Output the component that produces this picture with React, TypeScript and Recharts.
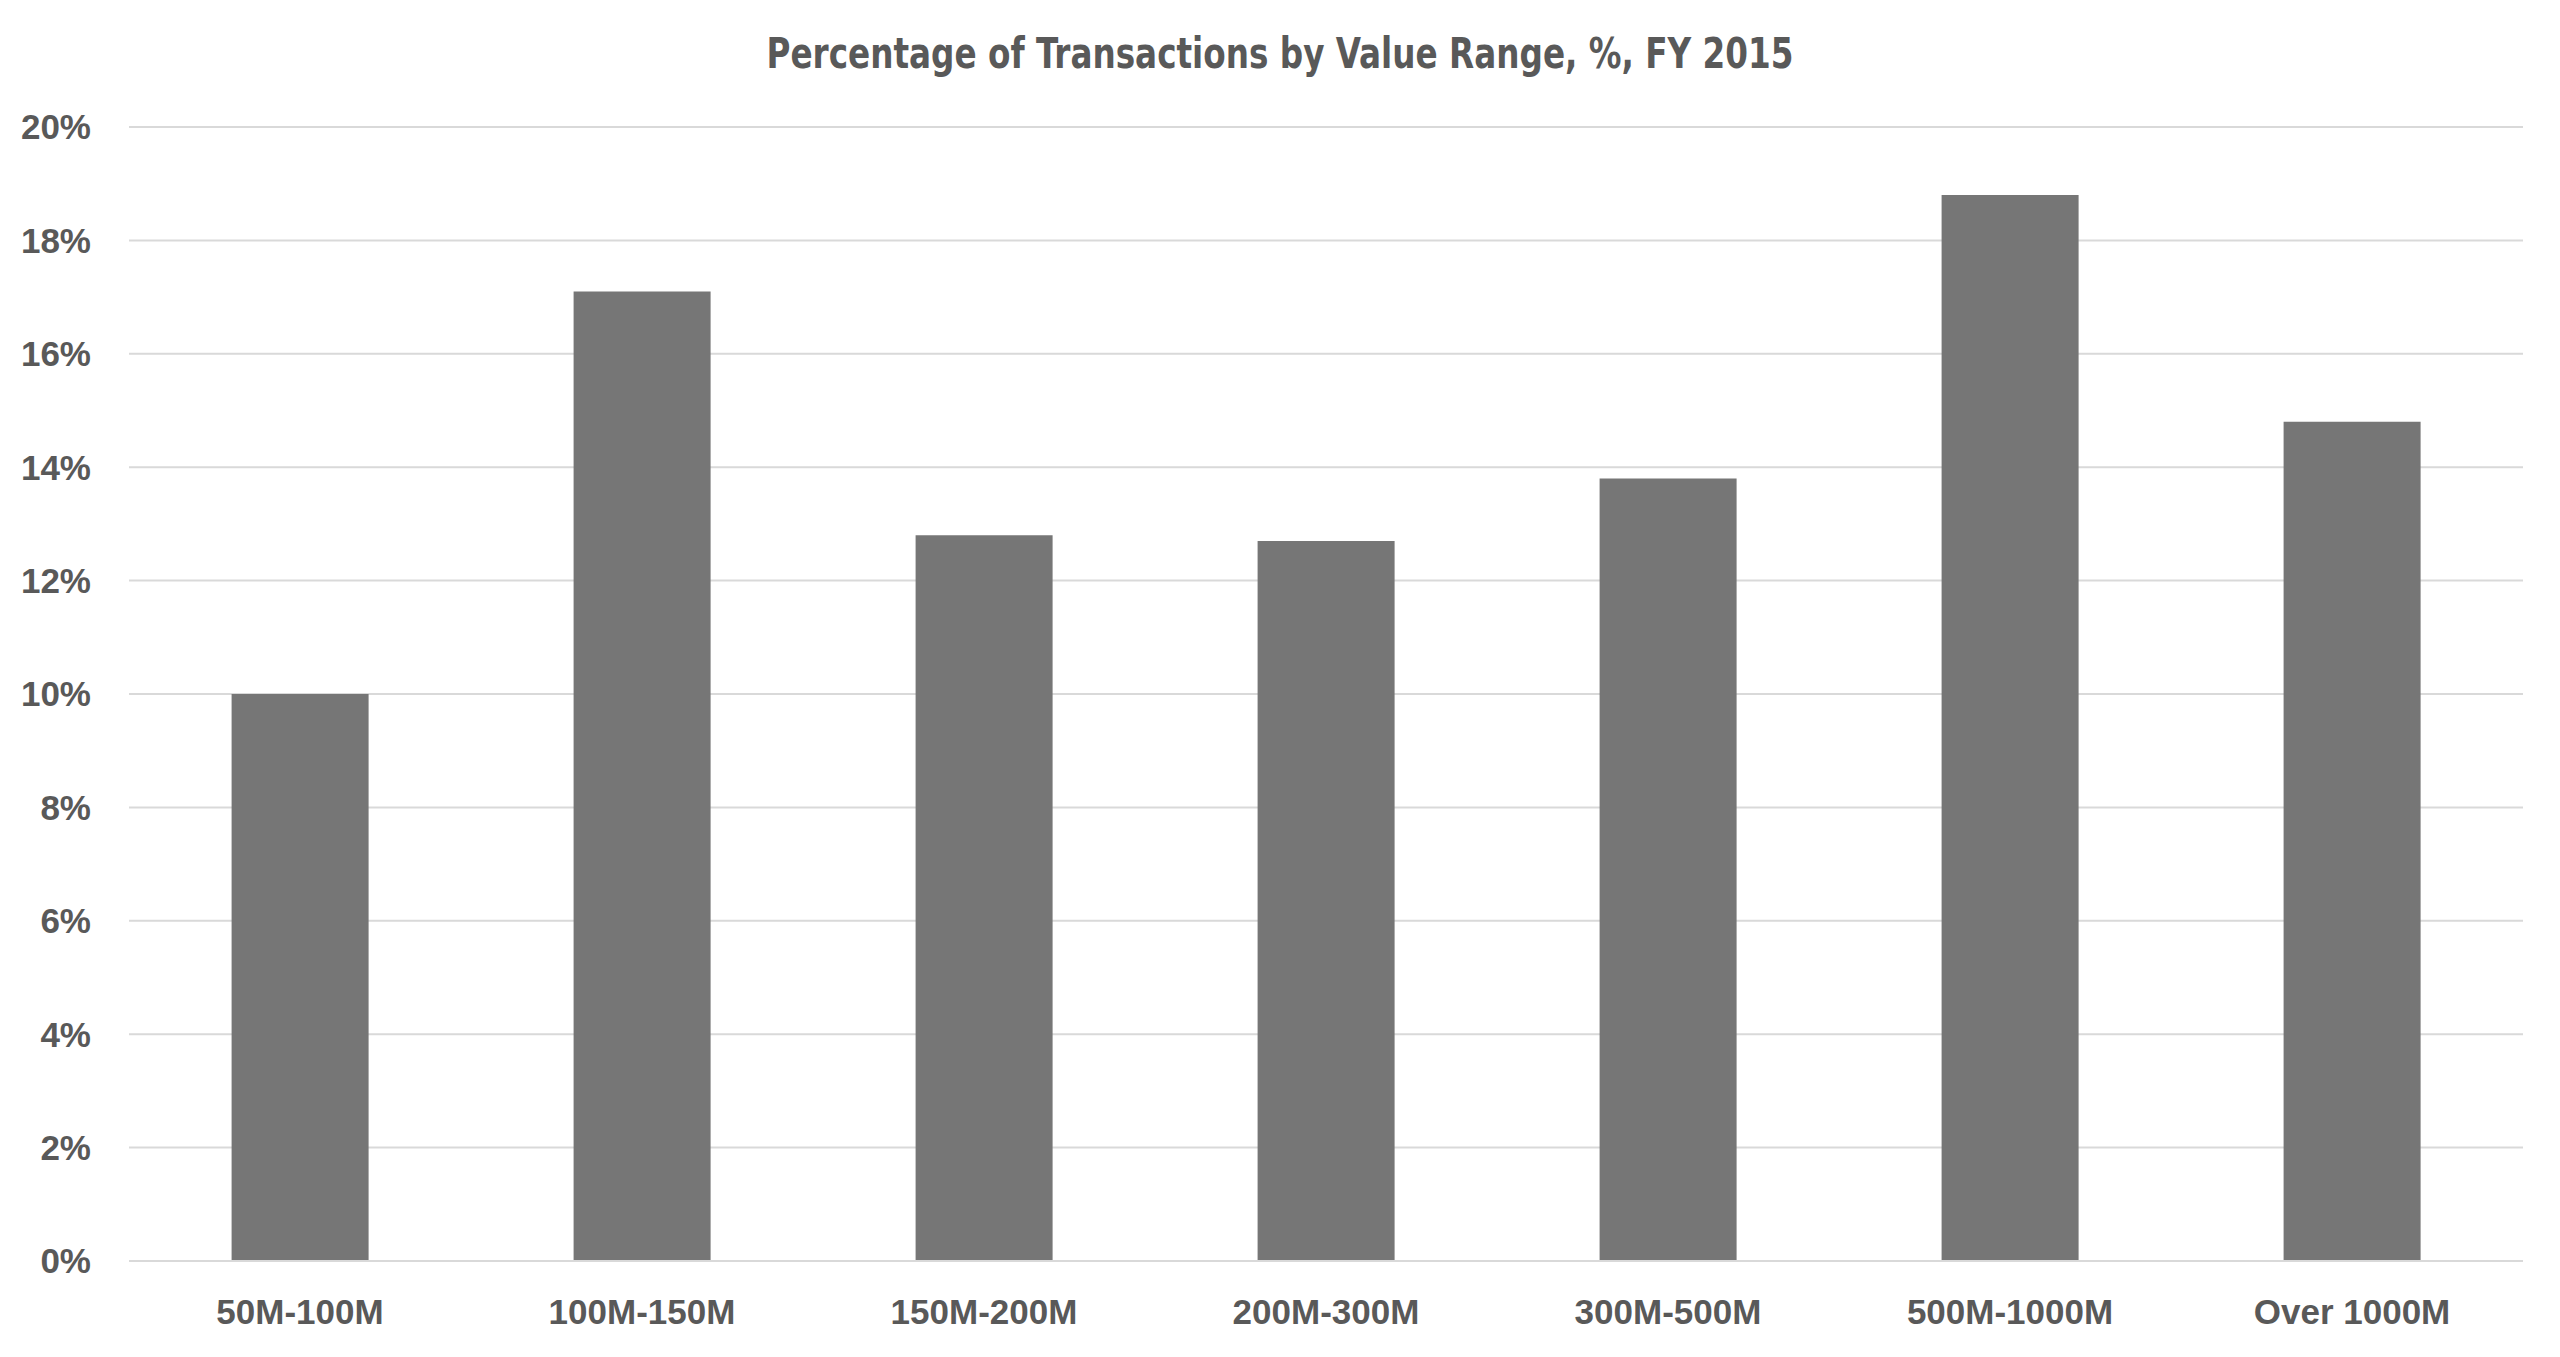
import React from 'react';
import { BarChart, Bar, XAxis, YAxis, CartesianGrid } from 'recharts';

const categories = ['50M-100M', '100M-150M', '150M-200M', '200M-300M', '300M-500M', '500M-1000M', 'Over 1000M'];
const shares = [10.0, 17.1, 12.8, 12.7, 13.8, 18.8, 14.8];
const yTicks = [0, 2, 4, 6, 8, 10, 12, 14, 16, 18, 20];
const title = 'Percentage of Transactions by Value Range, %, FY 2015';

const data = categories.map((c, i) => ({ name: c, value: shares[i] }));

const W = 2560;
const H = 1357;
const textColor = '#595959';
const tickFont = { fontFamily: '"Liberation Sans", Arial, sans-serif', fontWeight: 700, fontSize: 35, fill: textColor };

export default function App() {
  return (
    <div style={{ position: 'absolute', left: 0, top: 0, width: W, height: H, background: '#ffffff' }}>
      <BarChart
        width={W}
        height={H}
        data={data}
        margin={{ top: 127, right: 37, bottom: 0, left: 0 }}
        barCategoryGap="30%"
      >
        <CartesianGrid vertical={false} stroke="#d9d9d9" strokeWidth={2} />
        <XAxis
          dataKey="name"
          height={96}
          axisLine={{ stroke: '#d9d9d9', strokeWidth: 2 }}
          tickLine={false}
          tickSize={0}
          tickMargin={38}
          tick={tickFont}
          interval={0}
        />
        <YAxis
          width={129}
          domain={[0, 20]}
          ticks={yTicks}
          axisLine={false}
          tickLine={false}
          tickSize={0}
          tickMargin={38}
          tick={tickFont}
          tickFormatter={(v: number) => `${v}%`}
        />
        <Bar dataKey="value" fill="#767676" isAnimationActive={false} />
      </BarChart>
      <svg width={W} height={110} style={{ position: 'absolute', left: 0, top: 0 }}>
        <text
          x={1280}
          y={68}
          textAnchor="middle"
          fontFamily='"DejaVu Sans Condensed", "Liberation Sans", sans-serif'
          fontWeight={700}
          fontSize={42}
          textLength={1027}
          lengthAdjust="spacingAndGlyphs"
          fill={textColor}
        >
          {title}
        </text>
      </svg>
    </div>
  );
}
